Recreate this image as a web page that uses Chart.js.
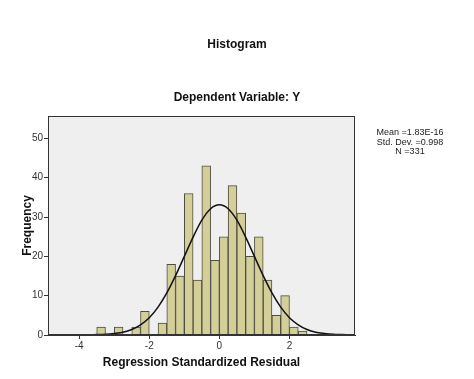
<!DOCTYPE html>
<html>
<head>
<meta charset="utf-8">
<script src="https://cdn.jsdelivr.net/npm/chart.js@4/dist/chart.umd.min.js"></script>
<style>
  body { margin: 0; background: #fff; }
  #wrap { width: 474px; height: 379px; }
</style>
</head>
<body>
<div id="wrap"><canvas id="histo" width="474" height="379"></canvas></div>
<script>
// bins de 0.25 (centros) y frecuencias
const binCenters = [-3.375, -3.125, -2.875, -2.625, -2.375, -2.125, -1.875, -1.625,
  -1.375, -1.125, -0.875, -0.625, -0.375, -0.125, 0.125, 0.375, 0.625, 0.875,
  1.125, 1.375, 1.625, 1.875, 2.125, 2.375];
const binCounts = [2, 0, 2, 0, 2, 6, 0, 3, 18, 15, 36, 14, 43, 19, 25, 38, 31, 20,
  25, 14, 5, 10, 2, 1];

// curva normal
const curveX = [-4.75, -4.5, -4.25, -4, -3.75, -3.5, -3.25, -3, -2.75, -2.5, -2.25, -2,
  -1.75, -1.5, -1.25, -1, -0.75, -0.5, -0.25, 0, 0.25, 0.5, 0.75, 1, 1.25, 1.5,
  1.75, 2, 2.25, 2.5, 2.75, 3, 3.25, 3.5, 3.75];
const curveY = [0, 0, 0, 0, 0, 0.1, 0.2, 0.4, 0.7, 1.4, 2.6, 4.4, 7.1, 10.7, 15.1, 20.0,
  24.9, 29.2, 32.1, 33.1, 32.1, 29.2, 24.9, 20.0, 15.1, 10.7, 7.1, 4.4, 2.6, 1.4,
  0.7, 0.4, 0.2, 0.1, 0];

const xTicks = [-4, -2, 0, 2];
const yTicks = [0, 10, 20, 30, 40, 50];
const statsLines = ["Mean =1.83E-16", "Std. Dev. =0.998", "N =331"];

const FONT = "'Liberation Sans', Arial, sans-serif";

// fondo gris del area + marco + texto de estadisticas
const boxPlugin = {
  id: "boxPlugin",
  beforeDraw(chart) {
    const { ctx, chartArea: a } = chart;
    ctx.save();
    ctx.fillStyle = "#efefef";
    ctx.fillRect(a.left, a.top, a.right - a.left, a.bottom - a.top);
    ctx.restore();
  },
  afterDraw(chart) {
    const { ctx, chartArea: a } = chart;
    ctx.save();
    ctx.strokeStyle = "#333";
    ctx.lineWidth = 1;
    ctx.strokeRect(a.left + 0.5, a.top + 0.5, a.right - a.left - 1, a.bottom - a.top - 1);
    ctx.fillStyle = "#222";
    ctx.font = "9px " + FONT;
    ctx.textAlign = "center";
    ctx.textBaseline = "middle";
    statsLines.forEach((t, i) => ctx.fillText(t, 410, 133 + i * 9.5));
    ctx.restore();
  }
};

new Chart(document.getElementById("histo"), {
  type: "bar",
  data: {
    datasets: [
      {
        type: "line",
        data: curveX.map((x, i) => ({ x: x, y: curveY[i] })),
        borderColor: "#111",
        borderWidth: 1.5,
        pointRadius: 0,
        cubicInterpolationMode: "monotone",
        fill: false,
        order: 0
      },
      {
        type: "bar",
        data: binCenters.map((x, i) => ({ x: x, y: binCounts[i] })),
        backgroundColor: "#d4cf98",
        borderColor: "#4d4d40",
        borderWidth: 1,
        borderSkipped: "bottom",
        barPercentage: 1,
        categoryPercentage: 1,
        order: 1
      }
    ]
  },
  options: {
    responsive: false,
    animation: false,
    layout: { padding: 0 },
    plugins: {
      legend: { display: false },
      tooltip: { enabled: false },
      title: {
        display: true,
        text: "Histogram",
        color: "#111",
        font: { family: FONT, size: 12, weight: "bold" },
        padding: { top: 37, bottom: 38.6 }
      },
      subtitle: {
        display: true,
        text: "Dependent Variable: Y",
        color: "#111",
        font: { family: FONT, size: 12, weight: "bold" },
        padding: { top: 0, bottom: 11.6 }
      }
    },
    scales: {
      x: {
        type: "linear",
        min: -4.89,
        max: 3.87,
        offset: false,
        afterBuildTicks: (s) => { s.ticks = xTicks.map((v) => ({ value: v })); },
        afterFit: (s) => { s.height = 44; },
        grid: { offset: false, drawOnChartArea: false, drawTicks: true, tickLength: 4, color: "#333" },
        border: { display: true, color: "#333" },
        ticks: {
          color: "#333",
          padding: 1,
          font: { family: FONT, size: 10 },
          callback: (v) => String(v)
        },
        title: {
          display: true,
          text: "Regression Standardized Residual",
          color: "#111",
          font: { family: FONT, size: 12, weight: "bold" },
          padding: { top: 0, bottom: 8.8 }
        }
      },
      y: {
        min: 0,
        max: 55.7,
        afterBuildTicks: (s) => { s.ticks = yTicks.map((v) => ({ value: v })); },
        afterFit: (s) => { s.width = 48; },
        grid: { drawOnChartArea: false, drawTicks: true, tickLength: 4, color: "#333" },
        border: { display: true, color: "#333" },
        ticks: {
          color: "#333",
          padding: 1,
          font: { family: FONT, size: 10 },
          callback: (v) => String(v)
        },
        title: {
          display: true,
          text: "Frequency",
          color: "#111",
          font: { family: FONT, size: 12, weight: "bold" },
          padding: { top: 20, bottom: 0 }
        }
      },
      // espacio vacio a la derecha para el texto de estadisticas
      side: {
        position: "right",
        afterFit: (s) => { s.width = 119; },
        grid: { display: false },
        border: { display: false },
        ticks: { display: false }
      }
    }
  },
  plugins: [boxPlugin]
});
</script>
</body>
</html>
